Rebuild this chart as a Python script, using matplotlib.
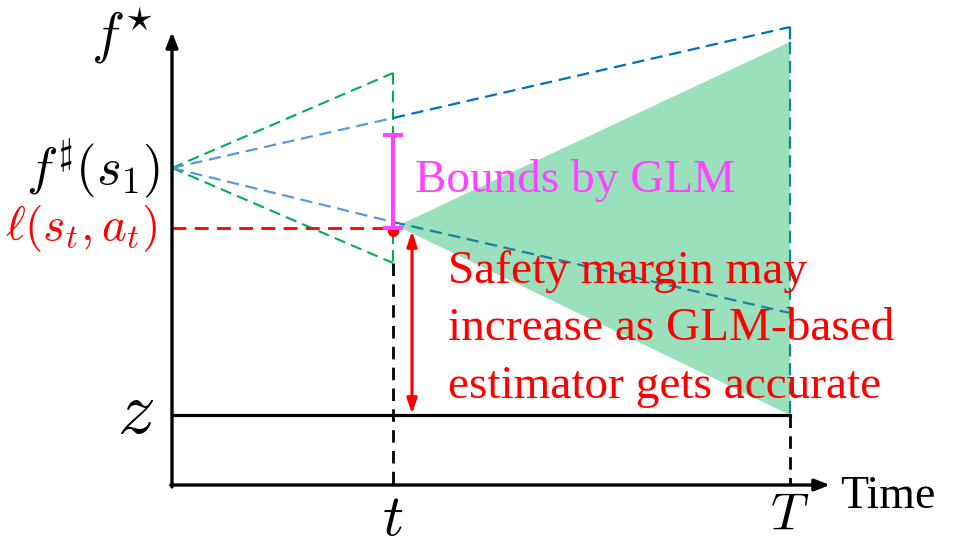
import matplotlib
matplotlib.use("Agg")
import matplotlib.pyplot as plt
from matplotlib.patches import Polygon

plt.rcParams['mathtext.fontset'] = 'cm'

# ---- diagram geometry (pixel-like data units, y grows downward) ----
origin = (172, 485)          # corner of the axes
axis_top_y = 32
axis_right_x = 830
x_t = 393                    # time t
x_T = 790                    # horizon T
y_start = 168                # f#(s1)
y_l = 228                    # l(s_t, a_t)
y_z = 415                    # z

green_upper = [(172, 168), (393, 73)]
green_lower = [(172, 168), (393, 263)]
blue_upper_a = [(172, 168), (393, 118)]
blue_upper_b = [(393, 118), (790, 27)]
blue_lower_a = [(172, 168), (393, 222)]
blue_lower_b = [(393, 222), (790, 313)]
fill_poly = [(397, 226), (790, 42), (790, 415)]
bound_bar = (135, 228)
margin_arrow_x = 412

fig = plt.figure(figsize=(9.69, 5.54), dpi=100)
ax = fig.add_axes([0, 0, 1, 1])
ax.set_xlim(0, 969)
ax.set_ylim(554, 0)
ax.axis('off')

green = '#00b050'
lblue = '#5b9bd5'
dblue = '#0070c0'
teal = '#1b7f9e'
magenta = '#ff44ff'
red = '#ff0000'
fillc = '#9ae0bd'
dash = (0, (5.5, 3))

# green fill
ax.add_patch(Polygon(fill_poly, closed=True, facecolor=fillc, edgecolor='none', zorder=1))

# axes arrows
ax.annotate('', xy=(origin[0], axis_top_y), xytext=(origin[0], origin[1] + 2),
            arrowprops=dict(arrowstyle='-|>,head_length=0.9,head_width=0.35', lw=2.4,
                            color='black', shrinkA=0, shrinkB=0), zorder=5)
ax.annotate('', xy=(axis_right_x, origin[1]), xytext=(origin[0] - 1.2, origin[1]),
            arrowprops=dict(arrowstyle='-|>,head_length=0.9,head_width=0.35', lw=2.4,
                            color='black', shrinkA=0, shrinkB=0), zorder=5)

# z line
ax.plot([origin[0], x_T], [y_z, y_z], color='black', lw=2.3, zorder=4)

# black dashed verticals
ax.plot([x_t, x_t], [263, origin[1]], color='black', lw=2.0, ls=(0, (4.5, 3)), zorder=3)
ax.plot([x_T, x_T], [y_z, origin[1]], color='black', lw=2.0, ls=(0, (4.5, 3)), zorder=3)

# green dashed triangle
ax.plot(*zip(*green_upper), color=green, lw=1.5, ls=dash, zorder=3)
ax.plot(*zip(*green_lower), color=green, lw=1.5, ls=dash, zorder=3)
ax.plot([x_t, x_t], [73, 263], color=green, lw=1.5, ls=dash, zorder=3)

# blue dashed
ax.plot(*zip(*blue_upper_a), color=lblue, lw=1.6, ls=dash, zorder=3)
ax.plot(*zip(*blue_upper_b), color=dblue, lw=1.6, ls=dash, zorder=3)
ax.plot(*zip(*blue_lower_a), color=lblue, lw=1.6, ls=dash, zorder=3)
ax.plot(*zip(*blue_lower_b), color=teal, lw=1.6, ls=dash, zorder=3)
ax.plot([x_T, x_T], [27, 42], color=dblue, lw=1.6, ls=dash, zorder=3)
ax.plot([x_T, x_T], [42, y_z], color='#138a8a', lw=1.6, ls=dash, zorder=3)

# red dashed level
ax.plot([origin[0], x_t], [y_l, y_l], color=red, lw=2.0, ls=(0, (5, 3)), zorder=3)

# red dot and magenta bounds bar
ax.plot([x_t], [y_l + 3], 'o', color=red, ms=7, zorder=6)
ax.errorbar([x_t], [(bound_bar[0] + bound_bar[1]) / 2],
            yerr=[[(bound_bar[1] - bound_bar[0]) / 2]], color=magenta,
            lw=3.0, capsize=7, capthick=3.0, fmt='none', zorder=7)

# red double arrow
ax.annotate('', xy=(margin_arrow_x, y_l + 3), xytext=(margin_arrow_x, y_z - 1),
            arrowprops=dict(arrowstyle='<|-|>,head_length=0.9,head_width=0.3', lw=2.2,
                            color=red, shrinkA=0, shrinkB=0), zorder=6)

# labels
ax.text(122, 36, r'$f^{\star}$', fontsize=40, ha='center', va='center', color='black')
ax.text(160, 168, r'$f^{\sharp}(s_1)$', fontsize=38, ha='right', va='center', color='black')
ax.text(157, 229, r'$\ell(s_t, a_t)$', fontsize=34, ha='right', va='center', color=red)
ax.text(136, 412, r'$z$', fontsize=54, ha='center', va='center', color='black')
ax.text(393, 518, r'$t$', fontsize=42, ha='center', va='center', color='black')
ax.text(790, 515, r'$T$', fontsize=38, ha='center', va='center', color='black')
ax.text(840, 497, 'Time', fontsize=33, ha='left', va='center',
        family='Liberation Serif', color='black')
ax.text(415, 180, 'Bounds by GLM', fontsize=34, ha='left', va='center',
        family='Liberation Serif', color=magenta)
ax.text(448, 329, 'Safety margin may\nincrease as GLM-based\nestimator gets accurate',
        fontsize=34, ha='left', va='center', family='Liberation Serif', color=red,
        linespacing=1.45)

fig.savefig('out.png', dpi=100)
